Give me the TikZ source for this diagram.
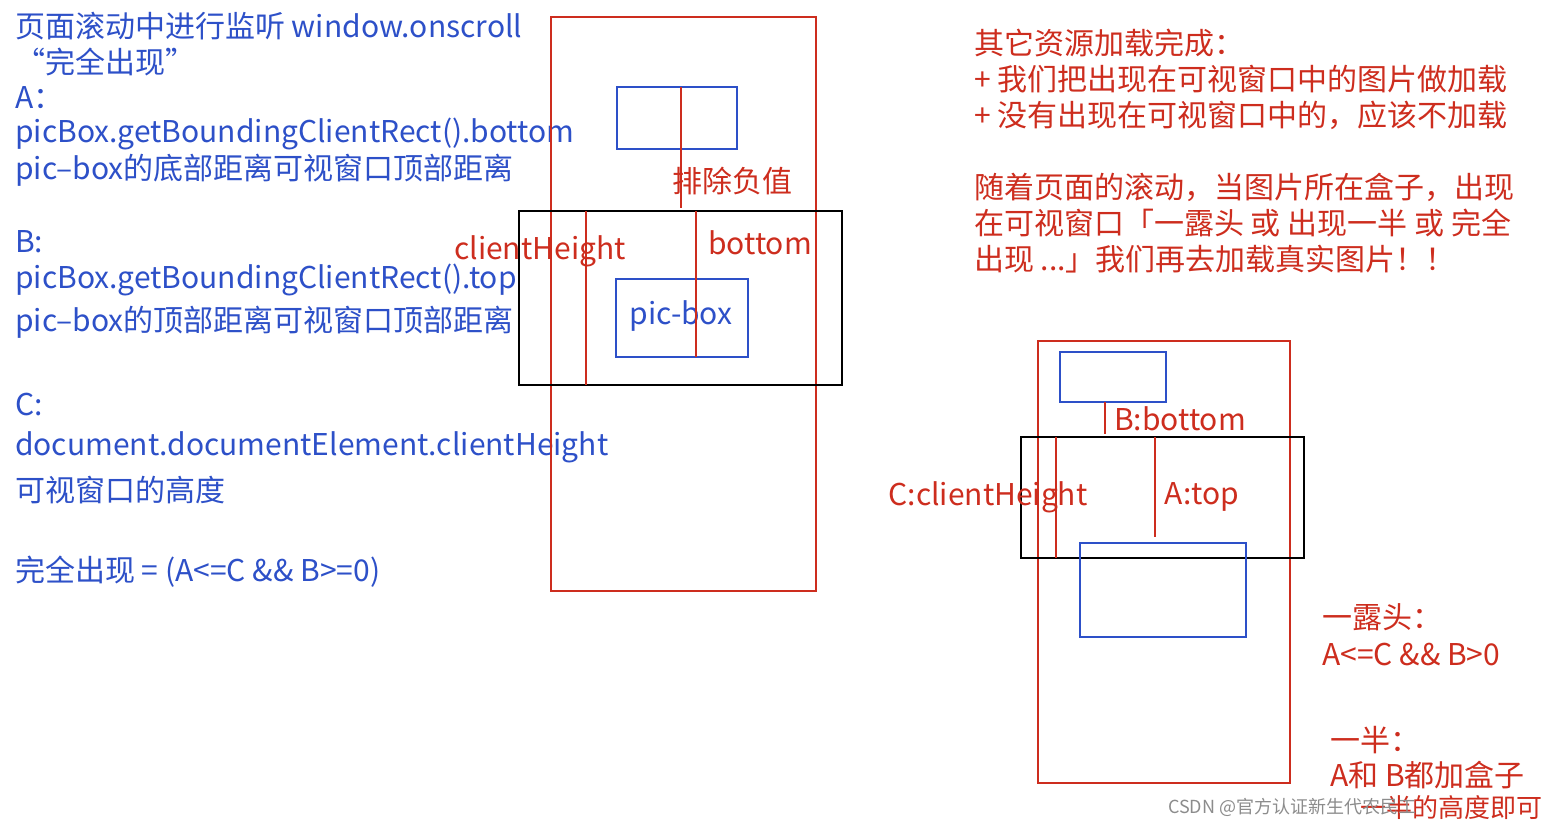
\documentclass[tikz,border=0pt]{standalone}
\usepackage{fontspec}
\setmainfont{Noto Sans CJK SC}
\definecolor{tb}{RGB}{45,80,200}
\definecolor{tr}{RGB}{205,45,30}
\begin{document}
\begin{tikzpicture}[x=1pt,y=-1pt,
  bt/.style={text=tb,anchor=west,inner sep=0pt,font=\fontsize{30}{32}\selectfont},
  rt/.style={text=tr,anchor=west,inner sep=0pt,font=\fontsize{30}{32}\selectfont},
  rl/.style={tr,line width=1.3pt},
  bl/.style={tb,line width=1.3pt},
  kl/.style={black,line width=1.3pt}]
\useasboundingbox (0,0) rectangle (1545,827);
% left text
\node[bt] (l1) at (15,26) {页面滚动中进行监听 window.onscroll};
\node[bt] (l2) at (15,62) {“完全出现”};
\node[bt] (l3) at (15,98) {A：};
\node[bt] (l4) at (15,134) {picBox.getBoundingClientRect().bottom};
\node[bt] (l5) at (15,170) {pic–box的底部距离可视窗口顶部距离};
\node[bt] (l6) at (15,242) {B:};
\node[bt] (l7) at (15,280) {picBox.getBoundingClientRect().top};
\node[bt] (l8) at (15,322) {pic–box的顶部距离可视窗口顶部距离};
\node[bt] (l9) at (15,405) {C:};
\node[bt] (l10) at (15,447) {document.documentElement.clientHeight};
\node[bt] (l11) at (15,490) {可视窗口的高度};
\node[bt] (l12) at (15,572) {完全出现 = (A<=C \&\& B>=0)};
% left diagram
\draw[rl] (551,17) rectangle (816,591);
\draw[bl] (617,87) rectangle (737,149);
\draw[kl] (519,211) rectangle (842,385);
\draw[bl] (616,279) rectangle (748,357);
\node[bt,anchor=center] (pb) at (681,316) {pic-box};
\coordinate (a1) at (681,87); \coordinate (a2) at (681,208);
\draw[rl] (a1) -- (a2);
\node[rt,anchor=center] (pf) at (732,181) {排除负值};
\coordinate (b1) at (586,211); \coordinate (b2) at (586,385);
\draw[rl] (b1) -- (b2);
\node[rt,anchor=center] (ch) at (540,251) {clientHeight};
\coordinate (c1) at (696,211); \coordinate (c2) at (696,357);
\draw[rl] (c1) -- (c2);
\node[rt,anchor=center] (bo) at (760,243) {bottom};
% right text
\node[rt] (r1) at (974,43) {其它资源加载完成：};
\node[rt] (r2) at (974,79) {+ 我们把出现在可视窗口中的图片做加载};
\node[rt] (r3) at (974,115) {+ 没有出现在可视窗口中的，应该不加载};
\node[rt] (r4) at (974,187) {随着页面的滚动，当图片所在盒子，出现};
\node[rt] (r5) at (974,223) {在可视窗口「一露头 或 出现一半 或 完全};
\node[rt] (r6) at (974,259) {出现 ...」我们再去加载真实图片！！};
% right diagram
\draw[rl] (1038,341) rectangle (1290,783);
\draw[bl] (1060,352) rectangle (1166,402);
\draw[kl] (1021,437) rectangle (1304,558);
\draw[bl] (1080,543) rectangle (1246,637);
\coordinate (d1) at (1105,402); \coordinate (d2) at (1105,434);
\draw[rl] (d1) -- (d2);
\node[rt,anchor=center] (bb) at (1180,419) {B:bottom};
\coordinate (e1) at (1056,437); \coordinate (e2) at (1056,558);
\draw[rl] (e1) -- (e2);
\node[rt,anchor=center] (cc) at (988,497) {C:clientHeight};
\coordinate (f1) at (1155,437); \coordinate (f2) at (1155,537);
\draw[rl] (f1) -- (f2);
\node[rt,anchor=center] (at) at (1202,497) {A:top};
\node[rt] (s1) at (1322,617) {一露头：};
\node[rt] (s2) at (1322,654) {A<=C \&\& B>0};
\node[rt] (s3) at (1330,740) {一半：};
\node[rt] (s4) at (1330,775) {A和 B都加盒子};
\node[rt,font=\fontsize{26}{28}\selectfont] (s5) at (1360,808) {一半的高度即可};
\node[anchor=west,inner sep=0pt,text=black!45,font=\fontsize{18}{20}\selectfont] (wm) at (1168,807) {CSDN @官方认证新生代农民工};
\end{tikzpicture}
\end{document}
